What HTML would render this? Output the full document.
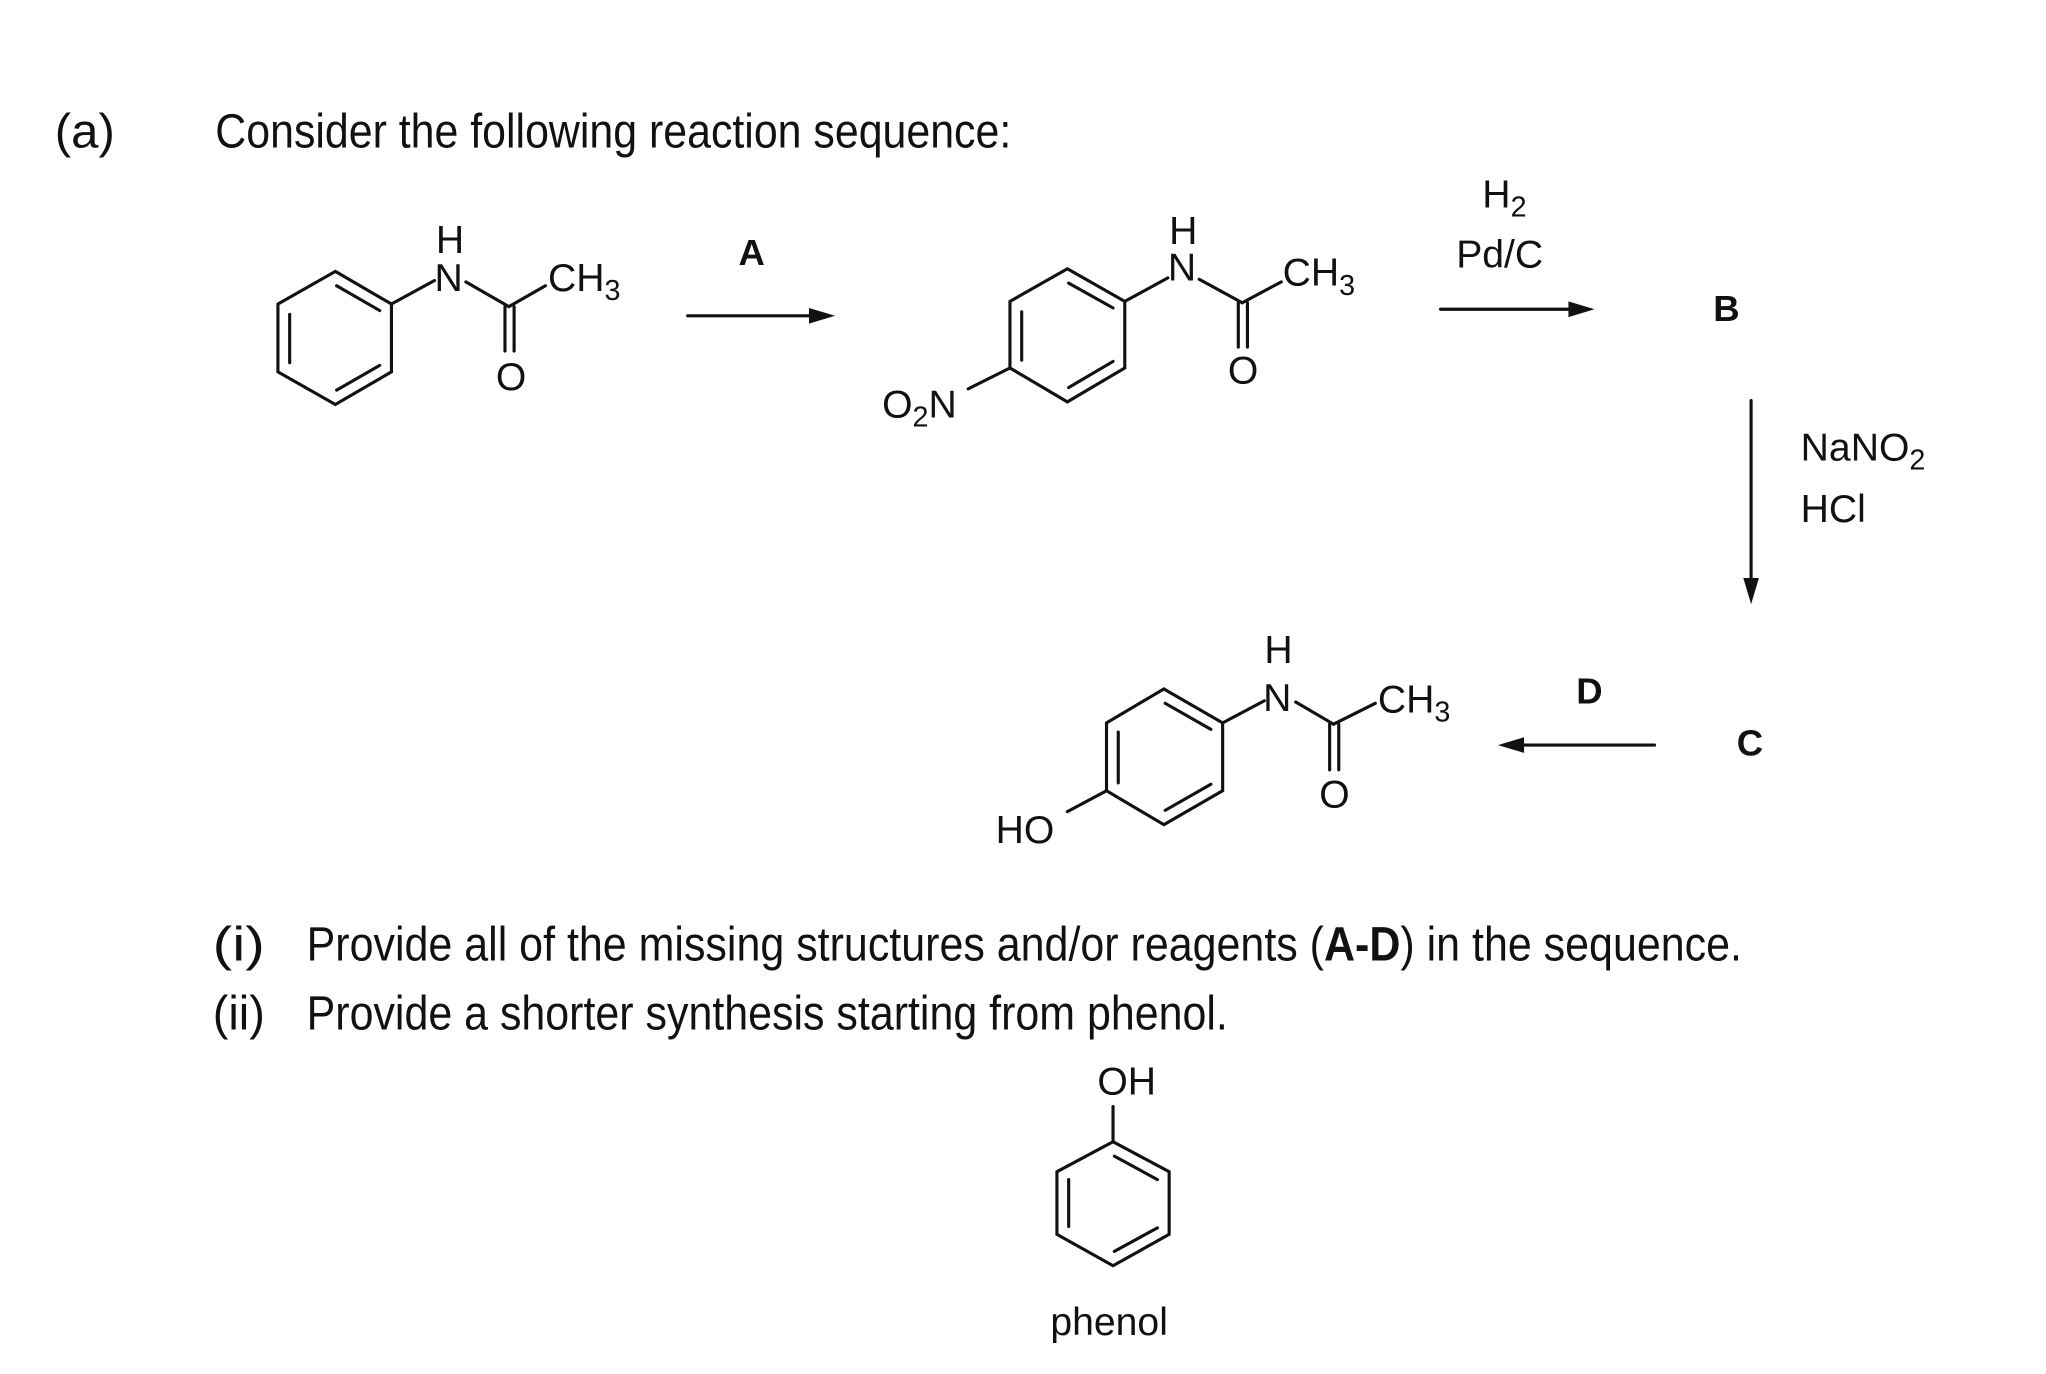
<!DOCTYPE html>
<html><head><style>
html,body{margin:0;padding:0;background:#fff;}
svg{display:block;}
text{font-family:"Liberation Sans",Arial,sans-serif;fill:#111;}
.t{font-size:37px;}
.c{font-size:30px;}
.b{font-size:28px;font-weight:bold;}
</style></head><body>
<svg width="2046" height="1374" viewBox="0 0 1568 1053" preserveAspectRatio="none" xmlns="http://www.w3.org/2000/svg">
<g stroke="#111" stroke-width="2.4" fill="none" stroke-linecap="round">
<polygon points="257,208 300,233 300,285 257,310 213,285 213,233"/>
<line x1="258" y1="219" x2="291" y2="238"/>
<line x1="222" y1="241" x2="222" y2="278"/>
<line x1="258" y1="299" x2="291" y2="280"/>
<line x1="300" y1="233" x2="333" y2="215"/>
<line x1="357" y1="216" x2="390" y2="235"/>
<line x1="390" y1="235" x2="418" y2="219"/>
<line x1="387" y1="235" x2="387" y2="269"/>
<line x1="394" y1="235" x2="394" y2="269"/>
<line x1="527" y1="242" x2="625" y2="242"/>
<polygon points="818,206 862,231 862,282 818,308 774,282 774,231"/>
<line x1="819" y1="217" x2="853" y2="236"/>
<line x1="783" y1="239" x2="783" y2="276"/>
<line x1="819" y1="297" x2="853" y2="277"/>
<line x1="862" y1="231" x2="895" y2="213"/>
<line x1="774" y1="282" x2="742" y2="298"/>
<line x1="919" y1="214" x2="952" y2="232"/>
<line x1="952" y1="232" x2="982" y2="216"/>
<line x1="949" y1="232" x2="949" y2="266"/>
<line x1="956" y1="232" x2="956" y2="266"/>
<line x1="1104" y1="237" x2="1208" y2="237"/>
<line x1="1342" y1="307" x2="1342" y2="448"/>
<line x1="1268" y1="571" x2="1162" y2="571"/>
<polygon points="892,528 937,554 937,606 892,632 848,606 848,554"/>
<line x1="893" y1="539" x2="928" y2="559"/>
<line x1="857" y1="561" x2="857" y2="600"/>
<line x1="893" y1="621" x2="928" y2="601"/>
<line x1="937" y1="554" x2="969" y2="537"/>
<line x1="848" y1="606" x2="818" y2="622"/>
<line x1="993" y1="538" x2="1022" y2="555"/>
<line x1="1022" y1="555" x2="1054" y2="539"/>
<line x1="1019" y1="555" x2="1019" y2="590"/>
<line x1="1026" y1="555" x2="1026" y2="590"/>
<line x1="853" y1="848" x2="853" y2="875"/>
<polygon points="853,875 896,898 896,946 853,970 810,946 810,898"/>
<line x1="854" y1="886" x2="887" y2="904"/>
<line x1="819" y1="904" x2="819" y2="940"/>
<line x1="854" y1="959" x2="887" y2="941"/>
</g>
<g fill="#111">
<polygon points="640,242 620,236 620,248"/>
<polygon points="1222,237 1202,231 1202,243"/>
<polygon points="1342,463 1336,443 1348,443"/>
<polygon points="1148,571 1168,565 1168,577"/>
</g>
<text class="t" x="42" y="113" textLength="46" lengthAdjust="spacingAndGlyphs">(a)</text>
<text class="t" x="165" y="113" textLength="610" lengthAdjust="spacingAndGlyphs">Consider the following reaction sequence:</text>
<text class="c" x="334" y="194">H</text>
<text class="c" x="333" y="223">N</text>
<text class="c" x="420" y="223">CH<tspan font-size="22" dy="7">3</tspan></text>
<text class="c" x="380" y="299">O</text>
<text class="b" x="566" y="203">A</text>
<text class="c" x="896" y="187">H</text>
<text class="c" x="895" y="215">N</text>
<text class="c" x="983" y="219">CH<tspan font-size="22" dy="7">3</tspan></text>
<text class="c" x="941" y="294">O</text>
<text class="c" x="676" y="320">O<tspan font-size="22" dy="7">2</tspan><tspan dy="-7">N</tspan></text>
<text class="c" x="1136" y="159">H<tspan font-size="22" dy="7">2</tspan></text>
<text class="c" x="1116" y="205">Pd/C</text>
<text class="b" x="1313" y="246">B</text>
<text class="c" x="1380" y="353">NaNO<tspan font-size="22" dy="7">2</tspan></text>
<text class="c" x="1380" y="400">HCl</text>
<text class="b" x="1208" y="539">D</text>
<text class="b" x="1331" y="579">C</text>
<text class="c" x="969" y="508">H</text>
<text class="c" x="968" y="545">N</text>
<text class="c" x="1056" y="546">CH<tspan font-size="22" dy="7">3</tspan></text>
<text class="c" x="1011" y="619">O</text>
<text class="c" x="763" y="646">HO</text>
<text class="t" x="163" y="736" textLength="40" lengthAdjust="spacingAndGlyphs">(i)</text>
<text class="t" x="235" y="736" textLength="1100" lengthAdjust="spacingAndGlyphs">Provide all of the missing structures and/or reagents (<tspan font-weight="bold">A-D</tspan>) in the sequence.</text>
<text class="t" x="163" y="789" textLength="40" lengthAdjust="spacingAndGlyphs">(ii)</text>
<text class="t" x="235" y="789" textLength="706" lengthAdjust="spacingAndGlyphs">Provide a shorter synthesis starting from phenol.</text>
<text class="c" x="841" y="839">OH</text>
<text class="c" x="805" y="1023">phenol</text>
</svg>
</body></html>
